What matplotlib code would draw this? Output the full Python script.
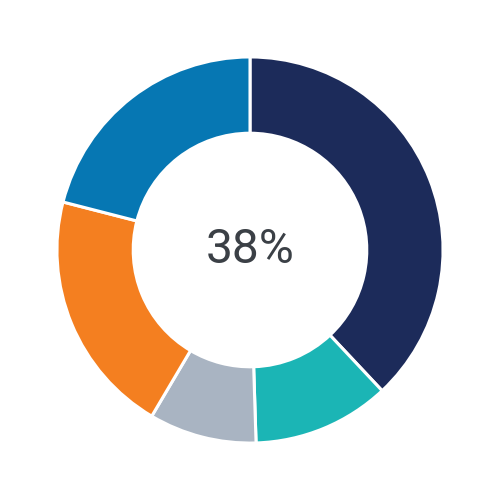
import matplotlib
matplotlib.use("Agg")
from matplotlib import pyplot as plt

LABELS = ["Navy", "Teal", "Gray", "Orange", "Blue"]
VALUES = [38, 11.5, 9, 20.5, 21]
COLORS = ["#1c2b5a", "#1bb5b5", "#a9b4c2", "#f47f20", "#0677b3"]
CENTER_TEXT = "38%"

fig = plt.figure(figsize=(5, 5), dpi=100)
ax = fig.add_axes([0, 0, 1, 1])
ax.pie(
    VALUES, colors=COLORS, startangle=90, counterclock=False,
    radius=1.0,
    wedgeprops={"width": 0.395, "edgecolor": "white", "linewidth": 2.2},
)
ax.text(0, 0.0, CENTER_TEXT, ha="center", va="center", fontsize=34.5,
        color="#3b4046", family="Roboto")
ax.set_xlim(-1.295, 1.295)
ax.set_ylim(-1.295, 1.295)
ax.set_aspect("equal")
ax.axis("off")
fig.savefig("out.png", dpi=100, facecolor="white")
